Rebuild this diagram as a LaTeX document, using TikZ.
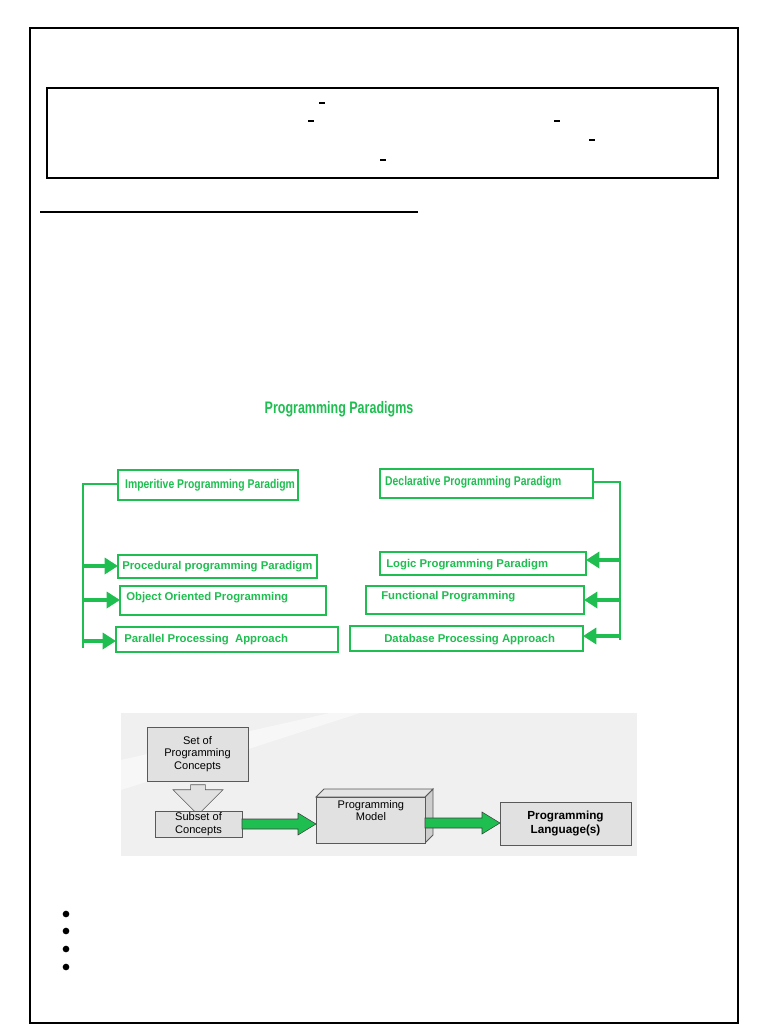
\documentclass[tikz,border=0pt]{standalone}
\usepackage{fontspec}
\setmainfont{Liberation Sans}
\usetikzlibrary{arrows.meta,shapes.arrows}
\definecolor{pg}{RGB}{30,190,80}
\definecolor{bx}{RGB}{225,225,225}
\begin{document}
\begin{tikzpicture}[x=0.75pt,y=-0.75pt,
 gbox/.style={draw=pg,line width=2pt,anchor=north west,inner sep=0pt},
 gtxt/.style={text=pg,font=\bfseries\fontsize{8.5}{10}\selectfont,anchor=west,inner sep=0pt},
 ctxt/.style={text=pg,font=\bfseries\fontsize{9.5}{10}\selectfont,anchor=west,inner sep=0pt,xscale=0.82},
 gline/.style={draw=pg,line width=2pt},
 garr/.style={draw=pg,line width=3.5pt,-{Triangle[length=10pt,width=12pt]}},
 gybox/.style={draw=gray!70!black,fill=bx,line width=0.6pt,align=center,font=\fontsize{8.3}{9.3}\selectfont,inner sep=1pt},
 bul/.style={circle,fill=black,inner sep=0pt,minimum size=5pt}]
\useasboundingbox (0,0) rectangle (768,1024);
\fill[white] (0,0) rectangle (768,1024);
\draw[line width=0.8pt] (30,28) rectangle (738,1023);
\draw[line width=0.8pt] (47,88) rectangle (718,178);
\foreach \x/\y in {322/103,311/121,557/121,592/140,383/160} \draw[line width=0.8pt] (\x-3,\y) -- (\x+3,\y);
\draw[line width=1.6pt] (40,212) -- (418,212);
% title
\node[text=pg,font=\bfseries\fontsize{12.5}{13}\selectfont,xscale=0.75] (title) at (339,409) {Programming Paradigms};
% left boxes
\draw[gbox] (118,470) rectangle (298,500); \node[ctxt] (imp) at (125,485) {Imperitive Programming Paradigm};
\draw[gbox] (118,555) rectangle (317,578); \node[gtxt] (pro) at (122,567) {Procedural programming Paradigm};
\draw[gbox] (120,586) rectangle (326,615); \node[gtxt] (oop) at (126,598) {Object Oriented Programming};
\draw[gbox] (116,627) rectangle (338,652); \node[gtxt] (par) at (124,640) {Parallel Processing\ \ Approach};
% right boxes
\draw[gbox] (380,469) rectangle (593,498); \node[ctxt] (dec) at (385,482) {Declarative Programming Paradigm};
\draw[gbox] (380,552) rectangle (586,575); \node[gtxt] (log) at (386,565) {Logic Programming Paradigm};
\draw[gbox] (366,586) rectangle (584,614); \node[gtxt] (fun) at (381,597) {Functional Programming};
\draw[gbox] (350,626) rectangle (583,651); \node[gtxt] (db) at (384,640) {Database Processing Approach};
\coordinate (L0) at (83,484); \coordinate (R0) at (620,482);
\draw[gline] (118,484) -- (L0) -- (83,648);
\draw[gline] (593,482) -- (R0) -- (620,640);
\draw[garr] (83,566) -- (118,566);
\draw[garr] (83,600) -- (120,600);
\draw[garr] (83,641) -- (116,641);
\draw[garr] (620,560) -- (586,560);
\draw[garr] (620,600) -- (584,600);
\draw[garr] (620,636) -- (583,636);
% bottom figure
\fill[gray!12] (121,713) rectangle (637,856);
\fill[white,opacity=0.5] (121,760) -- (330,713) -- (360,713) -- (121,790) -- cycle;
\node[gybox,minimum width=101*0.75pt,minimum height=54*0.75pt] (set) at (197.5,754) {Set of\\Programming\\Concepts};
\node[single arrow,shape border rotate=270,draw=gray!70!black,fill=bx,minimum width=50*0.75pt,single arrow head extend=10*0.75pt,minimum height=30*0.75pt,inner sep=3pt] (dn) at (198,796) {};
\node[gybox,minimum width=87*0.75pt,minimum height=26*0.75pt] (sub) at (198.5,824) {Subset of\\Concepts};
\fill[bx!80!gray,draw=gray!70!black,line width=0.6pt] (425,797) -- (433,789) -- (433,835) -- (425,843) -- cycle;
\fill[bx!90!white,draw=gray!70!black,line width=0.6pt] (316,797) -- (324,789) -- (433,789) -- (425,797) -- cycle;
\node[gybox,minimum width=109*0.75pt,minimum height=46*0.75pt,anchor=north west] (mod) at (316,797) {Programming\\Model\\[6pt]};
\node[gybox,font=\bfseries\fontsize{8.8}{10}\selectfont,minimum width=131*0.75pt,minimum height=43*0.75pt] (lang) at (565.5,823.5) {Programming\\Language(s)};
\draw[draw=gray!50!black,fill=pg,line width=0.4pt] (242,819) -- (298,819) -- (298,813) -- (316,824) -- (298,835) -- (298,829) -- (242,829) -- cycle;
\draw[draw=gray!50!black,fill=pg,line width=0.4pt] (425,818) -- (482,818) -- (482,812) -- (500,823) -- (482,834) -- (482,828) -- (425,828) -- cycle;
% bullets
\foreach \y [count=\i] in {914,931,949,967} \node[bul] (b\i) at (66,\y) {};
\end{tikzpicture}
\end{document}
